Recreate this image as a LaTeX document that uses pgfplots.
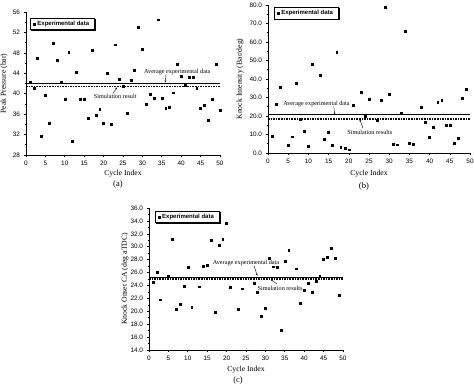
\documentclass[border=0pt]{standalone}
\usepackage{fontspec}
\setmainfont{Liberation Serif}
\setsansfont{Liberation Sans}
\usepackage{pgfplots}
\pgfplotsset{compat=1.18}
\usetikzlibrary{arrows.meta}

\pgfplotsset{
  mystyle/.style={
    scale only axis,
    axis x line*=bottom, axis y line*=left,
    axis line style={line width=0.7pt, -},
    tick align=outside,
    major tick length=2.5pt, minor tick length=1.5pt,
    xmin=0, xmax=50, xtick={0,5,...,50}, minor x tick num=1,
    minor y tick num=1,
    tick style={line width=0.6pt, black},
    tick label style={font=\fontsize{6.4}{7}\selectfont\sffamily},
    /pgf/number format/assume math mode=true,
    label style={font=\fontsize{7.7}{9}\selectfont},
    xlabel={Cycle Index},
    legend style={draw=black, fill=white, line width=0.6pt, font=\fontsize{6}{7}\selectfont\sffamily\bfseries,
      inner xsep=3pt, inner ysep=0.8pt, legend cell align=left},
    clip=false,
  },
  datapt/.style={only marks, mark=square*, mark size=0.95pt, black},
  avgline/.style={black, line width=1.1pt, no marks},
  simline/.style={black, line width=1.1pt, dash pattern=on 1.6pt off 1pt, no marks},
}
\tikzset{
  ann/.style={font=\fontsize{6.2}{7}\selectfont, inner sep=0.5pt},
  annarrow/.style={-{Stealth[length=2.2pt,width=1.8pt]}, line width=0.4pt},
  panel/.style={font=\fontsize{8.5}{10}\selectfont},
  legshadow/.style={line width=0.9pt, black},
}

\begin{document}
\begin{tikzpicture}[x=1pt,y=1pt]
\path[use as bounding box] (0,0) rectangle (474,388);

% ---------------- (a) ----------------
\begin{axis}[mystyle, at={(26pt,233pt)}, anchor=south west, width=194pt, height=143pt,
  ymin=28, ymax=56, ytick={28,32,...,56},
  ylabel={Peak Pressure (bar)},
  xlabel style={at={(axis description cs:0.5,-0.133)}, anchor=center},
  ylabel style={at={(axis description cs:-0.113,0.5)}, anchor=center},
  legend style={at={(axis description cs:0.022,0.958)}, anchor=north west, name=lega},
]
\addplot[datapt] coordinates {
(1,42.2)(2,41.1)(3,47.0)(4,31.7)(5,39.7)(6,34.3)(7,49.9)(8,46.5)(9,42.3)(10,39.0)
(11,48.1)(12,30.7)(13,44.2)(14,38.9)(15,38.9)(16,35.2)(17,48.6)(18,35.8)(19,37.0)(20,34.2)
(21,44.0)(22,34.0)(23,49.6)(24,42.8)(25,41.4)(26,36.1)(27,42.6)(28,44.6)(29,53.1)(30,48.8)
(31,37.9)(32,39.9)(33,39.2)(34,54.5)(35,39.2)(36,37.1)(37,37.3)(38,40.2)(39,45.7)(40,43.4)
(41,41.6)(42,43.2)(43,43.2)(44,41.0)(45,37.2)(46,37.7)(47,34.9)(48,39.0)(49,45.8)(50,36.8)};
\addlegendentry{Experimental data}
\addplot[avgline] coordinates {(0,42.0)(50,42.0)};
\addplot[simline] coordinates {(0,41.35)(50,41.35)};
\node[ann] at (axis cs:39.0,44.25) {Average experimental data};
\draw[annarrow] (axis cs:36.1,43.8) -- (axis cs:35.9,42.2);
\node[ann] at (axis cs:23.0,39.5) {Simulation result};
\draw[annarrow] (axis cs:22.4,40.1) -- (axis cs:23.5,41.25);
\node[panel] at (axis description cs:0.474,-0.205) {(a)};
\end{axis}
\draw[legshadow] ([shift={(0.8pt,-1pt)}]lega.north east) |- ([shift={(1.2pt,-0.8pt)}]lega.south west);

% ---------------- (b) ----------------
\begin{axis}[mystyle, at={(268pt,235pt)}, anchor=south west, width=202pt, height=148pt,
  ymin=0, ymax=80, ytick={0,10,...,80},
  yticklabel style={/pgf/number format/.cd, fixed, fixed zerofill, precision=1},
  ylabel={Knock Intensity (Bar/deg)},
  xlabel style={at={(axis description cs:0.5,-0.142)}, anchor=center},
  ylabel style={at={(axis description cs:-0.139,0.5)}, anchor=center},
  legend style={at={(axis description cs:0.03,0.986)}, anchor=north west, name=legb},
]
\addplot[datapt] coordinates {
(1,9.3)(2,26.4)(3,35.5)(5,4.1)(6,8.8)(7,37.7)(8,18.5)(9,12.0)(10,3.9)
(11,48.1)(13,42.0)(14,7.4)(15,11.1)(16,4.3)(17,54.5)(18,3.2)(19,2.5)(20,1.8)
(21,25.6)(23,32.8)(24,19.7)(25,29.2)(27,17.9)(28,28.3)(29,78.9)(30,31.9)
(31,4.7)(32,4.5)(33,21.3)(34,65.8)(35,5.4)(36,4.7)(38,24.6)(39,16.5)(40,8.3)
(41,13.8)(42,27.3)(43,28.5)(44,15.1)(45,15.1)(46,5.4)(47,8.1)(48,29.8)(49,34.4)};
\addlegendentry{Experimental data}
\addplot[avgline] coordinates {(0,20.6)(50,20.6)};
\addplot[simline] coordinates {(0,18.4)(50,18.4)};
\node[ann] at (axis cs:12.0,26.5) {Average experimental data};
\draw[annarrow] (axis cs:16.3,25.0) -- (axis cs:16.5,20.7);
\node[ann] at (axis cs:25.2,11.3) {Simulation results};
\draw[annarrow] (axis cs:23.5,13.4) -- (axis cs:22.7,18.3);
\node[panel] at (axis description cs:0.475,-0.225) {(b)};
\end{axis}
\draw[legshadow] ([shift={(0.8pt,-1pt)}]legb.north east) |- ([shift={(1.2pt,-0.8pt)}]legb.south west);

% ---------------- (c) ----------------
\begin{axis}[mystyle, at={(149pt,38pt)}, anchor=south west, width=194pt, height=142pt,
  ymin=14, ymax=36, ytick={14,16,...,36},
  yticklabel style={/pgf/number format/.cd, fixed, fixed zerofill, precision=1},
  ylabel={Knock Onset CA (deg aTDC)},
  xlabel style={at={(axis description cs:0.5,-0.141)}, anchor=center},
  ylabel style={at={(axis description cs:-0.124,0.5)}, anchor=center},
  legend style={at={(axis description cs:0.031,0.98)}, anchor=north west, name=legc},
]
\addplot[datapt] coordinates {
(1,24.5)(2,26.1)(3,21.8)(5,25.5)(6,31.1)(7,20.3)(8,21.1)(9,23.9)(10,26.8)
(11,20.7)(13,23.8)(14,27.0)(15,27.1)(16,31.0)(17,19.85)(18,30.2)(19,31.1)(20,33.6)
(21,23.7)(23,20.3)(24,23.5)(27,24.4)(28,22.9)(29,19.3)(30,20.5)
(31,28.2)(32,26.9)(33,26.8)(34,17.05)(35,27.8)(36,29.4)(38,26.6)(39,21.2)(40,23.3)
(41,24.4)(42,22.9)(43,24.6)(44,25.4)(45,28.0)(46,28.4)(47,29.8)(48,28.2)(49,22.5)};
\addlegendentry{Experimental data}
\addplot[avgline] coordinates {(0,25.28)(50,25.28)};
\addplot[simline] coordinates {(0,25.0)(50,25.0)};
\node[ann] at (axis cs:25.0,27.5) {Average experimental data};
\draw[annarrow] (axis cs:27.1,27.0) -- (axis cs:27.9,25.5);
\node[ann] at (axis cs:33.8,23.6) {Simulation results};
\draw[annarrow] (axis cs:33.0,24.2) -- (axis cs:31.4,24.95);
\node[panel] at (axis description cs:0.459,-0.218) {(c)};
\end{axis}
\draw[legshadow] ([shift={(0.8pt,-1pt)}]legc.north east) |- ([shift={(1.2pt,-0.8pt)}]legc.south west);
\end{tikzpicture}
\end{document}
